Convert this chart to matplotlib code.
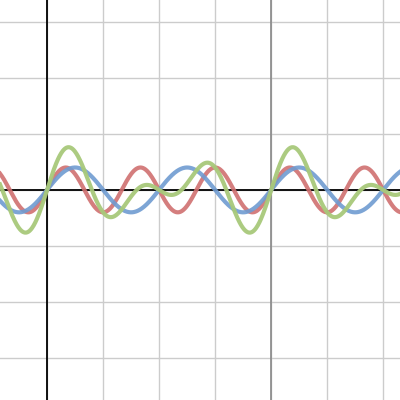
import numpy as np
import matplotlib
matplotlib.use("Agg")
import matplotlib.pyplot as plt

# curves: y = amp * sin(freq * x); x measured in grid units (1 grid = pi/2)
blue_freq, red_freq = 2, 3
amp = 0.4
x_range = (-0.84, 6.30)
y_range = (-3.75, 3.39)

fig = plt.figure(figsize=(4, 4), dpi=100)
ax = fig.add_axes([0, 0, 1, 1])
ax.set_xlim(*x_range); ax.set_ylim(*y_range)
for g in range(-1, 8):
    ax.axvline(g, color='#cccccc', lw=1, zorder=0)
for g in range(-4, 4):
    ax.axhline(g, color='#cccccc', lw=1, zorder=0)
ax.axvline(4, color='#888888', lw=1.2, zorder=0)
ax.axvline(0, color='black', lw=1.3, zorder=1)
ax.axhline(0, color='black', lw=1.3, zorder=1)

x = np.linspace(*x_range, 1000)
t = x * np.pi / 2
blue = amp * np.sin(blue_freq * t)
red = amp * np.sin(red_freq * t)
ax.plot(x, red, color='#d07070', lw=3, alpha=0.9, zorder=2)
ax.plot(x, blue, color='#6f9bd1', lw=3, alpha=0.9, zorder=3)
ax.plot(x, blue + red, color='#a8c97a', lw=3, alpha=0.95, zorder=4)
ax.axis('off')
fig.savefig('out.png')
